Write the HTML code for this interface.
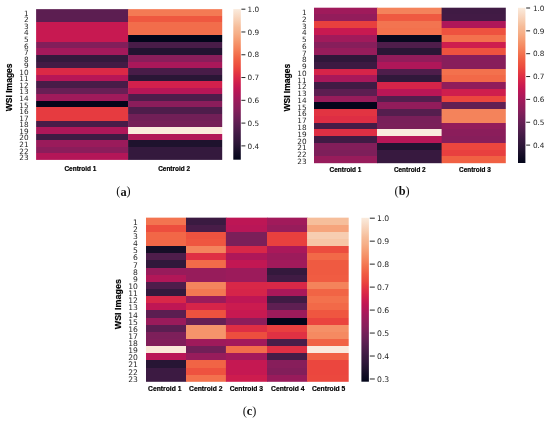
<!DOCTYPE html>
<html><head><meta charset="utf-8"><title>Heatmaps</title>
<style>
html,body{margin:0;padding:0;background:#fff}
body{width:550px;height:422px;overflow:hidden}
svg{display:block}
.t{font-family:"DejaVu Sans","Liberation Sans",sans-serif;fill:#262626}
.b{font-family:"Liberation Sans",sans-serif;font-weight:bold;fill:#000;stroke:#000;stroke-width:0.2px}
.c{font-family:"Liberation Serif",serif;fill:#111}
</style></head><body>
<svg width="550" height="422" viewBox="0 0 550 422">
<rect width="550" height="422" fill="#fff"/>
<defs><linearGradient id="h1" x1="0" y1="0" x2="0" y2="1"><stop offset="0.00000" stop-color="#5c1e51"/><stop offset="0.04348" stop-color="#5c1e51"/><stop offset="0.04348" stop-color="#5c1e51"/><stop offset="0.08696" stop-color="#5c1e51"/><stop offset="0.08696" stop-color="#c71951"/><stop offset="0.13043" stop-color="#c71951"/><stop offset="0.13043" stop-color="#c71951"/><stop offset="0.17391" stop-color="#c71951"/><stop offset="0.17391" stop-color="#c71951"/><stop offset="0.21739" stop-color="#c71951"/><stop offset="0.21739" stop-color="#821e5a"/><stop offset="0.26087" stop-color="#821e5a"/><stop offset="0.26087" stop-color="#a4195b"/><stop offset="0.30435" stop-color="#a4195b"/><stop offset="0.30435" stop-color="#34193d"/><stop offset="0.34783" stop-color="#34193d"/><stop offset="0.34783" stop-color="#421b45"/><stop offset="0.39130" stop-color="#421b45"/><stop offset="0.39130" stop-color="#db2946"/><stop offset="0.43478" stop-color="#db2946"/><stop offset="0.43478" stop-color="#b71657"/><stop offset="0.47826" stop-color="#b71657"/><stop offset="0.47826" stop-color="#481c48"/><stop offset="0.52174" stop-color="#481c48"/><stop offset="0.52174" stop-color="#691f55"/><stop offset="0.56522" stop-color="#691f55"/><stop offset="0.56522" stop-color="#a11a5b"/><stop offset="0.60870" stop-color="#a11a5b"/><stop offset="0.60870" stop-color="#03051a"/><stop offset="0.65217" stop-color="#03051a"/><stop offset="0.65217" stop-color="#e63b40"/><stop offset="0.69565" stop-color="#e63b40"/><stop offset="0.69565" stop-color="#e63b40"/><stop offset="0.73913" stop-color="#e63b40"/><stop offset="0.73913" stop-color="#481c48"/><stop offset="0.78261" stop-color="#481c48"/><stop offset="0.78261" stop-color="#af1759"/><stop offset="0.82609" stop-color="#af1759"/><stop offset="0.82609" stop-color="#3f1b43"/><stop offset="0.86957" stop-color="#3f1b43"/><stop offset="0.86957" stop-color="#9a1b5b"/><stop offset="0.91304" stop-color="#9a1b5b"/><stop offset="0.91304" stop-color="#8b1d5b"/><stop offset="0.95652" stop-color="#8b1d5b"/><stop offset="0.95652" stop-color="#b41658"/><stop offset="1.00000" stop-color="#b41658"/></linearGradient></defs>
<rect x="36.1" y="9.15" width="92.5" height="150.75" fill="url(#h1)"/>
<defs><linearGradient id="h2" x1="0" y1="0" x2="0" y2="1"><stop offset="0.00000" stop-color="#f47a54"/><stop offset="0.04348" stop-color="#f47a54"/><stop offset="0.04348" stop-color="#ef5840"/><stop offset="0.08696" stop-color="#ef5840"/><stop offset="0.08696" stop-color="#f26d4b"/><stop offset="0.13043" stop-color="#f26d4b"/><stop offset="0.13043" stop-color="#f26d4b"/><stop offset="0.17391" stop-color="#f26d4b"/><stop offset="0.17391" stop-color="#03051a"/><stop offset="0.21739" stop-color="#03051a"/><stop offset="0.21739" stop-color="#481c48"/><stop offset="0.26087" stop-color="#481c48"/><stop offset="0.26087" stop-color="#221331"/><stop offset="0.30435" stop-color="#221331"/><stop offset="0.30435" stop-color="#891e5b"/><stop offset="0.34783" stop-color="#891e5b"/><stop offset="0.34783" stop-color="#aa185a"/><stop offset="0.39130" stop-color="#aa185a"/><stop offset="0.39130" stop-color="#481c48"/><stop offset="0.43478" stop-color="#481c48"/><stop offset="0.43478" stop-color="#2a1636"/><stop offset="0.47826" stop-color="#2a1636"/><stop offset="0.47826" stop-color="#d2204c"/><stop offset="0.52174" stop-color="#d2204c"/><stop offset="0.52174" stop-color="#b71657"/><stop offset="0.56522" stop-color="#b71657"/><stop offset="0.56522" stop-color="#4e1d4b"/><stop offset="0.60870" stop-color="#4e1d4b"/><stop offset="0.60870" stop-color="#8b1d5b"/><stop offset="0.65217" stop-color="#8b1d5b"/><stop offset="0.65217" stop-color="#4e1d4b"/><stop offset="0.69565" stop-color="#4e1d4b"/><stop offset="0.69565" stop-color="#711f57"/><stop offset="0.73913" stop-color="#711f57"/><stop offset="0.73913" stop-color="#751f58"/><stop offset="0.78261" stop-color="#751f58"/><stop offset="0.78261" stop-color="#faebdd"/><stop offset="0.82609" stop-color="#faebdd"/><stop offset="0.82609" stop-color="#b21758"/><stop offset="0.86957" stop-color="#b21758"/><stop offset="0.86957" stop-color="#1e122d"/><stop offset="0.91304" stop-color="#1e122d"/><stop offset="0.91304" stop-color="#34193d"/><stop offset="0.95652" stop-color="#34193d"/><stop offset="0.95652" stop-color="#34193d"/><stop offset="1.00000" stop-color="#34193d"/></linearGradient></defs>
<rect x="128.1" y="9.15" width="94.1" height="150.75" fill="url(#h2)"/>
<defs><linearGradient id="ga" x1="0" y1="0" x2="0" y2="1"><stop offset="0" stop-color="#faebdd"/><stop offset="0.03" stop-color="#f9e0cd"/><stop offset="0.06" stop-color="#f8d4bc"/><stop offset="0.09" stop-color="#f7c9aa"/><stop offset="0.12" stop-color="#f6bc99"/><stop offset="0.16" stop-color="#f6b089"/><stop offset="0.19" stop-color="#f6a37a"/><stop offset="0.22" stop-color="#f5966c"/><stop offset="0.25" stop-color="#f58860"/><stop offset="0.28" stop-color="#f47a54"/><stop offset="0.31" stop-color="#f26b49"/><stop offset="0.34" stop-color="#f05c42"/><stop offset="0.38" stop-color="#ec4c3e"/><stop offset="0.41" stop-color="#e73d3f"/><stop offset="0.44" stop-color="#df2f44"/><stop offset="0.47" stop-color="#d62449"/><stop offset="0.5" stop-color="#cb1b4f"/><stop offset="0.53" stop-color="#bf1654"/><stop offset="0.56" stop-color="#b21758"/><stop offset="0.59" stop-color="#a4195b"/><stop offset="0.62" stop-color="#971c5b"/><stop offset="0.66" stop-color="#891e5b"/><stop offset="0.69" stop-color="#7b1f59"/><stop offset="0.72" stop-color="#6e1f57"/><stop offset="0.75" stop-color="#611f53"/><stop offset="0.78" stop-color="#541e4e"/><stop offset="0.81" stop-color="#481c48"/><stop offset="0.84" stop-color="#3c1a42"/><stop offset="0.88" stop-color="#30173a"/><stop offset="0.91" stop-color="#241432"/><stop offset="0.94" stop-color="#180f29"/><stop offset="0.97" stop-color="#0d0a21"/><stop offset="1" stop-color="#03051a"/></linearGradient></defs>
<rect x="233.3" y="9.1" width="7.5" height="150.6" fill="url(#ga)"/>
<line x1="241.4" y1="9.2" x2="245.4" y2="9.2" stroke="#262626" stroke-width="1"/>
<text x="247.6" y="11.86" font-size="7.3" class="t">1.0</text>
<line x1="241.4" y1="31.98" x2="245.4" y2="31.98" stroke="#262626" stroke-width="1"/>
<text x="247.6" y="34.64" font-size="7.3" class="t">0.9</text>
<line x1="241.4" y1="54.76" x2="245.4" y2="54.76" stroke="#262626" stroke-width="1"/>
<text x="247.6" y="57.42" font-size="7.3" class="t">0.8</text>
<line x1="241.4" y1="77.54" x2="245.4" y2="77.54" stroke="#262626" stroke-width="1"/>
<text x="247.6" y="80.2" font-size="7.3" class="t">0.7</text>
<line x1="241.4" y1="100.32" x2="245.4" y2="100.32" stroke="#262626" stroke-width="1"/>
<text x="247.6" y="102.98" font-size="7.3" class="t">0.6</text>
<line x1="241.4" y1="123.1" x2="245.4" y2="123.1" stroke="#262626" stroke-width="1"/>
<text x="247.6" y="125.76" font-size="7.3" class="t">0.5</text>
<line x1="241.4" y1="145.88" x2="245.4" y2="145.88" stroke="#262626" stroke-width="1"/>
<text x="247.6" y="148.54" font-size="7.3" class="t">0.4</text>
<text x="28.6" y="15.74" font-size="7.3" class="t" text-anchor="end">1</text>
<text x="28.6" y="22.31" font-size="7.3" class="t" text-anchor="end">2</text>
<text x="28.6" y="28.87" font-size="7.3" class="t" text-anchor="end">3</text>
<text x="28.6" y="35.43" font-size="7.3" class="t" text-anchor="end">4</text>
<text x="28.6" y="41.99" font-size="7.3" class="t" text-anchor="end">5</text>
<text x="28.6" y="48.55" font-size="7.3" class="t" text-anchor="end">6</text>
<text x="28.6" y="55.11" font-size="7.3" class="t" text-anchor="end">7</text>
<text x="28.6" y="61.67" font-size="7.3" class="t" text-anchor="end">8</text>
<text x="28.6" y="68.23" font-size="7.3" class="t" text-anchor="end">9</text>
<text x="28.6" y="74.79" font-size="7.3" class="t" text-anchor="end">10</text>
<text x="28.6" y="81.35" font-size="7.3" class="t" text-anchor="end">11</text>
<text x="28.6" y="87.91" font-size="7.3" class="t" text-anchor="end">12</text>
<text x="28.6" y="94.48" font-size="7.3" class="t" text-anchor="end">13</text>
<text x="28.6" y="101.04" font-size="7.3" class="t" text-anchor="end">14</text>
<text x="28.6" y="107.6" font-size="7.3" class="t" text-anchor="end">15</text>
<text x="28.6" y="114.16" font-size="7.3" class="t" text-anchor="end">16</text>
<text x="28.6" y="120.72" font-size="7.3" class="t" text-anchor="end">17</text>
<text x="28.6" y="127.28" font-size="7.3" class="t" text-anchor="end">18</text>
<text x="28.6" y="133.84" font-size="7.3" class="t" text-anchor="end">19</text>
<text x="28.6" y="140.4" font-size="7.3" class="t" text-anchor="end">20</text>
<text x="28.6" y="146.96" font-size="7.3" class="t" text-anchor="end">21</text>
<text x="28.6" y="153.52" font-size="7.3" class="t" text-anchor="end">22</text>
<text x="28.6" y="160.08" font-size="7.3" class="t" text-anchor="end">23</text>
<text x="80.4" y="171.41" font-size="6.45" class="b" text-anchor="middle">Centroid 1</text>
<text x="174.1" y="171.41" font-size="6.45" class="b" text-anchor="middle">Centroid 2</text>
<text transform="translate(11.5 87.3) rotate(-90)" font-size="8.5" class="b" text-anchor="middle">WSI Images</text>
<text transform="translate(123.5 195.6) scale(0.95 1)" font-size="13" class="c" text-anchor="middle"><tspan dy="-0.5">(</tspan><tspan font-weight="bold" dy="0.5">a</tspan><tspan dy="-0.5">)</tspan></text>
<defs><linearGradient id="h3" x1="0" y1="0" x2="0" y2="1"><stop offset="0.00000" stop-color="#9f1a5b"/><stop offset="0.04348" stop-color="#9f1a5b"/><stop offset="0.04348" stop-color="#931c5b"/><stop offset="0.08696" stop-color="#931c5b"/><stop offset="0.08696" stop-color="#e8403e"/><stop offset="0.13043" stop-color="#e8403e"/><stop offset="0.13043" stop-color="#c81951"/><stop offset="0.17391" stop-color="#c81951"/><stop offset="0.17391" stop-color="#a11a5b"/><stop offset="0.21739" stop-color="#a11a5b"/><stop offset="0.21739" stop-color="#871e5b"/><stop offset="0.26087" stop-color="#871e5b"/><stop offset="0.26087" stop-color="#971c5b"/><stop offset="0.30435" stop-color="#971c5b"/><stop offset="0.30435" stop-color="#30173a"/><stop offset="0.34783" stop-color="#30173a"/><stop offset="0.34783" stop-color="#3c1a42"/><stop offset="0.39130" stop-color="#3c1a42"/><stop offset="0.39130" stop-color="#d62449"/><stop offset="0.43478" stop-color="#d62449"/><stop offset="0.43478" stop-color="#a8185a"/><stop offset="0.47826" stop-color="#a8185a"/><stop offset="0.47826" stop-color="#401b44"/><stop offset="0.52174" stop-color="#401b44"/><stop offset="0.52174" stop-color="#5c1e51"/><stop offset="0.56522" stop-color="#5c1e51"/><stop offset="0.56522" stop-color="#971c5b"/><stop offset="0.60870" stop-color="#971c5b"/><stop offset="0.60870" stop-color="#03051a"/><stop offset="0.65217" stop-color="#03051a"/><stop offset="0.65217" stop-color="#e23442"/><stop offset="0.69565" stop-color="#e23442"/><stop offset="0.69565" stop-color="#de2e44"/><stop offset="0.73913" stop-color="#de2e44"/><stop offset="0.73913" stop-color="#451c47"/><stop offset="0.78261" stop-color="#451c47"/><stop offset="0.78261" stop-color="#df2f44"/><stop offset="0.82609" stop-color="#df2f44"/><stop offset="0.82609" stop-color="#401b44"/><stop offset="0.86957" stop-color="#401b44"/><stop offset="0.86957" stop-color="#821e5a"/><stop offset="0.91304" stop-color="#821e5a"/><stop offset="0.91304" stop-color="#7d1f5a"/><stop offset="0.95652" stop-color="#7d1f5a"/><stop offset="0.95652" stop-color="#971c5b"/><stop offset="1.00000" stop-color="#971c5b"/></linearGradient></defs>
<rect x="314" y="7.7" width="63.5" height="155.5" fill="url(#h3)"/>
<defs><linearGradient id="h4" x1="0" y1="0" x2="0" y2="1"><stop offset="0.00000" stop-color="#f4835b"/><stop offset="0.04348" stop-color="#f4835b"/><stop offset="0.04348" stop-color="#ef5a41"/><stop offset="0.08696" stop-color="#ef5a41"/><stop offset="0.08696" stop-color="#f37450"/><stop offset="0.13043" stop-color="#f37450"/><stop offset="0.13043" stop-color="#f3714d"/><stop offset="0.17391" stop-color="#f3714d"/><stop offset="0.17391" stop-color="#08081e"/><stop offset="0.21739" stop-color="#08081e"/><stop offset="0.21739" stop-color="#4e1d4b"/><stop offset="0.26087" stop-color="#4e1d4b"/><stop offset="0.26087" stop-color="#2a1636"/><stop offset="0.30435" stop-color="#2a1636"/><stop offset="0.30435" stop-color="#921c5b"/><stop offset="0.34783" stop-color="#921c5b"/><stop offset="0.34783" stop-color="#af1759"/><stop offset="0.39130" stop-color="#af1759"/><stop offset="0.39130" stop-color="#4e1d4b"/><stop offset="0.43478" stop-color="#4e1d4b"/><stop offset="0.43478" stop-color="#31183b"/><stop offset="0.47826" stop-color="#31183b"/><stop offset="0.47826" stop-color="#d62449"/><stop offset="0.52174" stop-color="#d62449"/><stop offset="0.52174" stop-color="#ba1656"/><stop offset="0.56522" stop-color="#ba1656"/><stop offset="0.56522" stop-color="#541e4e"/><stop offset="0.60870" stop-color="#541e4e"/><stop offset="0.60870" stop-color="#921c5b"/><stop offset="0.65217" stop-color="#921c5b"/><stop offset="0.65217" stop-color="#541e4e"/><stop offset="0.69565" stop-color="#541e4e"/><stop offset="0.69565" stop-color="#781f59"/><stop offset="0.73913" stop-color="#781f59"/><stop offset="0.73913" stop-color="#7a1f59"/><stop offset="0.78261" stop-color="#7a1f59"/><stop offset="0.78261" stop-color="#faebdd"/><stop offset="0.82609" stop-color="#faebdd"/><stop offset="0.82609" stop-color="#b71657"/><stop offset="0.86957" stop-color="#b71657"/><stop offset="0.86957" stop-color="#221331"/><stop offset="0.91304" stop-color="#221331"/><stop offset="0.91304" stop-color="#37193f"/><stop offset="0.95652" stop-color="#37193f"/><stop offset="0.95652" stop-color="#37193f"/><stop offset="1.00000" stop-color="#37193f"/></linearGradient></defs>
<rect x="377" y="7.7" width="65.1" height="155.5" fill="url(#h4)"/>
<defs><linearGradient id="h5" x1="0" y1="0" x2="0" y2="1"><stop offset="0.00000" stop-color="#401b44"/><stop offset="0.04348" stop-color="#401b44"/><stop offset="0.04348" stop-color="#421b45"/><stop offset="0.08696" stop-color="#421b45"/><stop offset="0.08696" stop-color="#af1759"/><stop offset="0.13043" stop-color="#af1759"/><stop offset="0.13043" stop-color="#ee523f"/><stop offset="0.17391" stop-color="#ee523f"/><stop offset="0.17391" stop-color="#f3714d"/><stop offset="0.21739" stop-color="#f3714d"/><stop offset="0.21739" stop-color="#ce1d4e"/><stop offset="0.26087" stop-color="#ce1d4e"/><stop offset="0.26087" stop-color="#ee523f"/><stop offset="0.30435" stop-color="#ee523f"/><stop offset="0.30435" stop-color="#871e5b"/><stop offset="0.34783" stop-color="#871e5b"/><stop offset="0.34783" stop-color="#871e5b"/><stop offset="0.39130" stop-color="#871e5b"/><stop offset="0.39130" stop-color="#f3714d"/><stop offset="0.43478" stop-color="#f3714d"/><stop offset="0.43478" stop-color="#f26948"/><stop offset="0.47826" stop-color="#f26948"/><stop offset="0.47826" stop-color="#901d5b"/><stop offset="0.52174" stop-color="#901d5b"/><stop offset="0.52174" stop-color="#cf1e4d"/><stop offset="0.56522" stop-color="#cf1e4d"/><stop offset="0.56522" stop-color="#eb463e"/><stop offset="0.60870" stop-color="#eb463e"/><stop offset="0.60870" stop-color="#611f53"/><stop offset="0.65217" stop-color="#611f53"/><stop offset="0.65217" stop-color="#f4835b"/><stop offset="0.69565" stop-color="#f4835b"/><stop offset="0.69565" stop-color="#f4835b"/><stop offset="0.73913" stop-color="#f4835b"/><stop offset="0.73913" stop-color="#931c5b"/><stop offset="0.78261" stop-color="#931c5b"/><stop offset="0.78261" stop-color="#8b1d5b"/><stop offset="0.82609" stop-color="#8b1d5b"/><stop offset="0.82609" stop-color="#871e5b"/><stop offset="0.86957" stop-color="#871e5b"/><stop offset="0.86957" stop-color="#eb463e"/><stop offset="0.91304" stop-color="#eb463e"/><stop offset="0.91304" stop-color="#e83f3f"/><stop offset="0.95652" stop-color="#e83f3f"/><stop offset="0.95652" stop-color="#f06043"/><stop offset="1.00000" stop-color="#f06043"/></linearGradient></defs>
<rect x="441.6" y="7.7" width="64.2" height="155.5" fill="url(#h5)"/>
<defs><linearGradient id="gb" x1="0" y1="0" x2="0" y2="1"><stop offset="0" stop-color="#faebdd"/><stop offset="0.03" stop-color="#f9e0cd"/><stop offset="0.06" stop-color="#f8d4bc"/><stop offset="0.09" stop-color="#f7c9aa"/><stop offset="0.12" stop-color="#f6bc99"/><stop offset="0.16" stop-color="#f6b089"/><stop offset="0.19" stop-color="#f6a37a"/><stop offset="0.22" stop-color="#f5966c"/><stop offset="0.25" stop-color="#f58860"/><stop offset="0.28" stop-color="#f47a54"/><stop offset="0.31" stop-color="#f26b49"/><stop offset="0.34" stop-color="#f05c42"/><stop offset="0.38" stop-color="#ec4c3e"/><stop offset="0.41" stop-color="#e73d3f"/><stop offset="0.44" stop-color="#df2f44"/><stop offset="0.47" stop-color="#d62449"/><stop offset="0.5" stop-color="#cb1b4f"/><stop offset="0.53" stop-color="#bf1654"/><stop offset="0.56" stop-color="#b21758"/><stop offset="0.59" stop-color="#a4195b"/><stop offset="0.62" stop-color="#971c5b"/><stop offset="0.66" stop-color="#891e5b"/><stop offset="0.69" stop-color="#7b1f59"/><stop offset="0.72" stop-color="#6e1f57"/><stop offset="0.75" stop-color="#611f53"/><stop offset="0.78" stop-color="#541e4e"/><stop offset="0.81" stop-color="#481c48"/><stop offset="0.84" stop-color="#3c1a42"/><stop offset="0.88" stop-color="#30173a"/><stop offset="0.91" stop-color="#241432"/><stop offset="0.94" stop-color="#180f29"/><stop offset="0.97" stop-color="#0d0a21"/><stop offset="1" stop-color="#03051a"/></linearGradient></defs>
<rect x="518" y="7.8" width="7.4" height="155.2" fill="url(#gb)"/>
<line x1="526.2" y1="8" x2="530.1" y2="8" stroke="#262626" stroke-width="1"/>
<text x="532.9" y="10.66" font-size="7.3" class="t">1.0</text>
<line x1="526.2" y1="30.85" x2="530.1" y2="30.85" stroke="#262626" stroke-width="1"/>
<text x="532.9" y="33.51" font-size="7.3" class="t">0.9</text>
<line x1="526.2" y1="53.7" x2="530.1" y2="53.7" stroke="#262626" stroke-width="1"/>
<text x="532.9" y="56.36" font-size="7.3" class="t">0.8</text>
<line x1="526.2" y1="76.55" x2="530.1" y2="76.55" stroke="#262626" stroke-width="1"/>
<text x="532.9" y="79.21" font-size="7.3" class="t">0.7</text>
<line x1="526.2" y1="99.4" x2="530.1" y2="99.4" stroke="#262626" stroke-width="1"/>
<text x="532.9" y="102.06" font-size="7.3" class="t">0.6</text>
<line x1="526.2" y1="122.25" x2="530.1" y2="122.25" stroke="#262626" stroke-width="1"/>
<text x="532.9" y="124.91" font-size="7.3" class="t">0.5</text>
<line x1="526.2" y1="145.1" x2="530.1" y2="145.1" stroke="#262626" stroke-width="1"/>
<text x="532.9" y="147.76" font-size="7.3" class="t">0.4</text>
<text x="306.6" y="15.04" font-size="7.3" class="t" text-anchor="end">1</text>
<text x="306.6" y="21.81" font-size="7.3" class="t" text-anchor="end">2</text>
<text x="306.6" y="28.57" font-size="7.3" class="t" text-anchor="end">3</text>
<text x="306.6" y="35.33" font-size="7.3" class="t" text-anchor="end">4</text>
<text x="306.6" y="42.09" font-size="7.3" class="t" text-anchor="end">5</text>
<text x="306.6" y="48.85" font-size="7.3" class="t" text-anchor="end">6</text>
<text x="306.6" y="55.61" font-size="7.3" class="t" text-anchor="end">7</text>
<text x="306.6" y="62.37" font-size="7.3" class="t" text-anchor="end">8</text>
<text x="306.6" y="69.13" font-size="7.3" class="t" text-anchor="end">9</text>
<text x="306.6" y="75.89" font-size="7.3" class="t" text-anchor="end">10</text>
<text x="306.6" y="82.65" font-size="7.3" class="t" text-anchor="end">11</text>
<text x="306.6" y="89.41" font-size="7.3" class="t" text-anchor="end">12</text>
<text x="306.6" y="96.18" font-size="7.3" class="t" text-anchor="end">13</text>
<text x="306.6" y="102.94" font-size="7.3" class="t" text-anchor="end">14</text>
<text x="306.6" y="109.7" font-size="7.3" class="t" text-anchor="end">15</text>
<text x="306.6" y="116.46" font-size="7.3" class="t" text-anchor="end">16</text>
<text x="306.6" y="123.22" font-size="7.3" class="t" text-anchor="end">17</text>
<text x="306.6" y="129.98" font-size="7.3" class="t" text-anchor="end">18</text>
<text x="306.6" y="136.74" font-size="7.3" class="t" text-anchor="end">19</text>
<text x="306.6" y="143.5" font-size="7.3" class="t" text-anchor="end">20</text>
<text x="306.6" y="150.26" font-size="7.3" class="t" text-anchor="end">21</text>
<text x="306.6" y="157.02" font-size="7.3" class="t" text-anchor="end">22</text>
<text x="306.6" y="163.78" font-size="7.3" class="t" text-anchor="end">23</text>
<text x="345.5" y="171.5" font-size="6.43" class="b" text-anchor="middle">Centroid 1</text>
<text x="409.8" y="171.5" font-size="6.43" class="b" text-anchor="middle">Centroid 2</text>
<text x="474.9" y="171.5" font-size="6.43" class="b" text-anchor="middle">Centroid 3</text>
<text transform="translate(289.5 87.7) rotate(-90)" font-size="8.5" class="b" text-anchor="middle">WSI Images</text>
<text transform="translate(402.1 195.3) scale(0.95 1)" font-size="13" class="c" text-anchor="middle"><tspan dy="-0.5">(</tspan><tspan font-weight="bold" dy="0.5">b</tspan><tspan dy="-0.5">)</tspan></text>
<defs><linearGradient id="h6" x1="0" y1="0" x2="0" y2="1"><stop offset="0.00000" stop-color="#f37450"/><stop offset="0.04348" stop-color="#f37450"/><stop offset="0.04348" stop-color="#ed4e3e"/><stop offset="0.08696" stop-color="#ed4e3e"/><stop offset="0.08696" stop-color="#f26747"/><stop offset="0.13043" stop-color="#f26747"/><stop offset="0.13043" stop-color="#f26747"/><stop offset="0.17391" stop-color="#f26747"/><stop offset="0.17391" stop-color="#160e27"/><stop offset="0.21739" stop-color="#160e27"/><stop offset="0.21739" stop-color="#4e1d4b"/><stop offset="0.26087" stop-color="#4e1d4b"/><stop offset="0.26087" stop-color="#31183b"/><stop offset="0.30435" stop-color="#31183b"/><stop offset="0.30435" stop-color="#981b5b"/><stop offset="0.34783" stop-color="#981b5b"/><stop offset="0.34783" stop-color="#b21758"/><stop offset="0.39130" stop-color="#b21758"/><stop offset="0.39130" stop-color="#4e1d4b"/><stop offset="0.43478" stop-color="#4e1d4b"/><stop offset="0.43478" stop-color="#34193d"/><stop offset="0.47826" stop-color="#34193d"/><stop offset="0.47826" stop-color="#d82748"/><stop offset="0.52174" stop-color="#d82748"/><stop offset="0.52174" stop-color="#bf1654"/><stop offset="0.56522" stop-color="#bf1654"/><stop offset="0.56522" stop-color="#5b1e51"/><stop offset="0.60870" stop-color="#5b1e51"/><stop offset="0.60870" stop-color="#9a1b5b"/><stop offset="0.65217" stop-color="#9a1b5b"/><stop offset="0.65217" stop-color="#5b1e51"/><stop offset="0.69565" stop-color="#5b1e51"/><stop offset="0.69565" stop-color="#7d1f5a"/><stop offset="0.73913" stop-color="#7d1f5a"/><stop offset="0.73913" stop-color="#811e5a"/><stop offset="0.78261" stop-color="#811e5a"/><stop offset="0.78261" stop-color="#fae8d8"/><stop offset="0.82609" stop-color="#fae8d8"/><stop offset="0.82609" stop-color="#ba1656"/><stop offset="0.86957" stop-color="#ba1656"/><stop offset="0.86957" stop-color="#271534"/><stop offset="0.91304" stop-color="#271534"/><stop offset="0.91304" stop-color="#3c1a42"/><stop offset="0.95652" stop-color="#3c1a42"/><stop offset="0.95652" stop-color="#3c1a42"/><stop offset="1.00000" stop-color="#3c1a42"/></linearGradient></defs>
<rect x="146" y="217.65" width="40.5" height="164.15" fill="url(#h6)"/>
<defs><linearGradient id="h7" x1="0" y1="0" x2="0" y2="1"><stop offset="0.00000" stop-color="#3a1a41"/><stop offset="0.04348" stop-color="#3a1a41"/><stop offset="0.04348" stop-color="#481c48"/><stop offset="0.08696" stop-color="#481c48"/><stop offset="0.08696" stop-color="#ee523f"/><stop offset="0.13043" stop-color="#ee523f"/><stop offset="0.13043" stop-color="#ef5640"/><stop offset="0.17391" stop-color="#ef5640"/><stop offset="0.17391" stop-color="#f4845d"/><stop offset="0.21739" stop-color="#f4845d"/><stop offset="0.21739" stop-color="#df2f44"/><stop offset="0.26087" stop-color="#df2f44"/><stop offset="0.26087" stop-color="#f26b49"/><stop offset="0.30435" stop-color="#f26b49"/><stop offset="0.30435" stop-color="#971c5b"/><stop offset="0.34783" stop-color="#971c5b"/><stop offset="0.34783" stop-color="#971c5b"/><stop offset="0.39130" stop-color="#971c5b"/><stop offset="0.39130" stop-color="#f4845d"/><stop offset="0.43478" stop-color="#f4845d"/><stop offset="0.43478" stop-color="#f37852"/><stop offset="0.47826" stop-color="#f37852"/><stop offset="0.47826" stop-color="#9a1b5b"/><stop offset="0.52174" stop-color="#9a1b5b"/><stop offset="0.52174" stop-color="#d62449"/><stop offset="0.56522" stop-color="#d62449"/><stop offset="0.56522" stop-color="#ee523f"/><stop offset="0.60870" stop-color="#ee523f"/><stop offset="0.60870" stop-color="#661f54"/><stop offset="0.65217" stop-color="#661f54"/><stop offset="0.65217" stop-color="#f5946b"/><stop offset="0.69565" stop-color="#f5946b"/><stop offset="0.69565" stop-color="#f5946b"/><stop offset="0.73913" stop-color="#f5946b"/><stop offset="0.73913" stop-color="#9f1a5b"/><stop offset="0.78261" stop-color="#9f1a5b"/><stop offset="0.78261" stop-color="#711f57"/><stop offset="0.82609" stop-color="#711f57"/><stop offset="0.82609" stop-color="#971c5b"/><stop offset="0.86957" stop-color="#971c5b"/><stop offset="0.86957" stop-color="#f16445"/><stop offset="0.91304" stop-color="#f16445"/><stop offset="0.91304" stop-color="#ee523f"/><stop offset="0.95652" stop-color="#ee523f"/><stop offset="0.95652" stop-color="#f3714d"/><stop offset="1.00000" stop-color="#f3714d"/></linearGradient></defs>
<rect x="186" y="217.65" width="40.4" height="164.15" fill="url(#h7)"/>
<defs><linearGradient id="h8" x1="0" y1="0" x2="0" y2="1"><stop offset="0.00000" stop-color="#bd1655"/><stop offset="0.04348" stop-color="#bd1655"/><stop offset="0.04348" stop-color="#b91657"/><stop offset="0.08696" stop-color="#b91657"/><stop offset="0.08696" stop-color="#7b1f59"/><stop offset="0.13043" stop-color="#7b1f59"/><stop offset="0.13043" stop-color="#7b1f59"/><stop offset="0.17391" stop-color="#7b1f59"/><stop offset="0.17391" stop-color="#d82748"/><stop offset="0.21739" stop-color="#d82748"/><stop offset="0.21739" stop-color="#af1759"/><stop offset="0.26087" stop-color="#af1759"/><stop offset="0.26087" stop-color="#c21753"/><stop offset="0.30435" stop-color="#c21753"/><stop offset="0.30435" stop-color="#9c1b5b"/><stop offset="0.34783" stop-color="#9c1b5b"/><stop offset="0.34783" stop-color="#9c1b5b"/><stop offset="0.39130" stop-color="#9c1b5b"/><stop offset="0.39130" stop-color="#d82748"/><stop offset="0.43478" stop-color="#d82748"/><stop offset="0.43478" stop-color="#d62449"/><stop offset="0.47826" stop-color="#d62449"/><stop offset="0.47826" stop-color="#bf1654"/><stop offset="0.52174" stop-color="#bf1654"/><stop offset="0.52174" stop-color="#cb1b4f"/><stop offset="0.56522" stop-color="#cb1b4f"/><stop offset="0.56522" stop-color="#c71951"/><stop offset="0.60870" stop-color="#c71951"/><stop offset="0.60870" stop-color="#8c1d5b"/><stop offset="0.65217" stop-color="#8c1d5b"/><stop offset="0.65217" stop-color="#de2e44"/><stop offset="0.69565" stop-color="#de2e44"/><stop offset="0.69565" stop-color="#ed4e3e"/><stop offset="0.73913" stop-color="#ed4e3e"/><stop offset="0.73913" stop-color="#a3195b"/><stop offset="0.78261" stop-color="#a3195b"/><stop offset="0.78261" stop-color="#f26d4b"/><stop offset="0.82609" stop-color="#f26d4b"/><stop offset="0.82609" stop-color="#a4195b"/><stop offset="0.86957" stop-color="#a4195b"/><stop offset="0.86957" stop-color="#c51852"/><stop offset="0.91304" stop-color="#c51852"/><stop offset="0.91304" stop-color="#c51852"/><stop offset="0.95652" stop-color="#c51852"/><stop offset="0.95652" stop-color="#cd1c4e"/><stop offset="1.00000" stop-color="#cd1c4e"/></linearGradient></defs>
<rect x="225.9" y="217.65" width="41.6" height="164.15" fill="url(#h8)"/>
<defs><linearGradient id="h9" x1="0" y1="0" x2="0" y2="1"><stop offset="0.00000" stop-color="#a11a5b"/><stop offset="0.04348" stop-color="#a11a5b"/><stop offset="0.04348" stop-color="#971c5b"/><stop offset="0.08696" stop-color="#971c5b"/><stop offset="0.08696" stop-color="#e8403e"/><stop offset="0.13043" stop-color="#e8403e"/><stop offset="0.13043" stop-color="#e8403e"/><stop offset="0.17391" stop-color="#e8403e"/><stop offset="0.17391" stop-color="#aa185a"/><stop offset="0.21739" stop-color="#aa185a"/><stop offset="0.21739" stop-color="#9c1b5b"/><stop offset="0.26087" stop-color="#9c1b5b"/><stop offset="0.26087" stop-color="#a11a5b"/><stop offset="0.30435" stop-color="#a11a5b"/><stop offset="0.30435" stop-color="#34193d"/><stop offset="0.34783" stop-color="#34193d"/><stop offset="0.34783" stop-color="#401b44"/><stop offset="0.39130" stop-color="#401b44"/><stop offset="0.39130" stop-color="#d92847"/><stop offset="0.43478" stop-color="#d92847"/><stop offset="0.43478" stop-color="#aa185a"/><stop offset="0.47826" stop-color="#aa185a"/><stop offset="0.47826" stop-color="#401b44"/><stop offset="0.52174" stop-color="#401b44"/><stop offset="0.52174" stop-color="#5e1f52"/><stop offset="0.56522" stop-color="#5e1f52"/><stop offset="0.56522" stop-color="#9c1b5b"/><stop offset="0.60870" stop-color="#9c1b5b"/><stop offset="0.60870" stop-color="#03051a"/><stop offset="0.65217" stop-color="#03051a"/><stop offset="0.65217" stop-color="#e83f3f"/><stop offset="0.69565" stop-color="#e83f3f"/><stop offset="0.69565" stop-color="#e03143"/><stop offset="0.73913" stop-color="#e03143"/><stop offset="0.73913" stop-color="#491d49"/><stop offset="0.78261" stop-color="#491d49"/><stop offset="0.78261" stop-color="#df2f44"/><stop offset="0.82609" stop-color="#df2f44"/><stop offset="0.82609" stop-color="#451c47"/><stop offset="0.86957" stop-color="#451c47"/><stop offset="0.86957" stop-color="#871e5b"/><stop offset="0.91304" stop-color="#871e5b"/><stop offset="0.91304" stop-color="#821e5a"/><stop offset="0.95652" stop-color="#821e5a"/><stop offset="0.95652" stop-color="#981b5b"/><stop offset="1.00000" stop-color="#981b5b"/></linearGradient></defs>
<rect x="267" y="217.65" width="40.6" height="164.15" fill="url(#h9)"/>
<defs><linearGradient id="h10" x1="0" y1="0" x2="0" y2="1"><stop offset="0.00000" stop-color="#f6be9b"/><stop offset="0.04348" stop-color="#f6be9b"/><stop offset="0.04348" stop-color="#f6a47c"/><stop offset="0.08696" stop-color="#f6a47c"/><stop offset="0.08696" stop-color="#f7cdb1"/><stop offset="0.13043" stop-color="#f7cdb1"/><stop offset="0.13043" stop-color="#f7c6a6"/><stop offset="0.17391" stop-color="#f7c6a6"/><stop offset="0.17391" stop-color="#ec4c3e"/><stop offset="0.21739" stop-color="#ec4c3e"/><stop offset="0.21739" stop-color="#f26948"/><stop offset="0.26087" stop-color="#f26948"/><stop offset="0.26087" stop-color="#ef5a41"/><stop offset="0.30435" stop-color="#ef5a41"/><stop offset="0.30435" stop-color="#ef5a41"/><stop offset="0.34783" stop-color="#ef5a41"/><stop offset="0.34783" stop-color="#f05c42"/><stop offset="0.39130" stop-color="#f05c42"/><stop offset="0.39130" stop-color="#f4835b"/><stop offset="0.43478" stop-color="#f4835b"/><stop offset="0.43478" stop-color="#f16445"/><stop offset="0.47826" stop-color="#f16445"/><stop offset="0.47826" stop-color="#f3714d"/><stop offset="0.52174" stop-color="#f3714d"/><stop offset="0.52174" stop-color="#f26948"/><stop offset="0.56522" stop-color="#f26948"/><stop offset="0.56522" stop-color="#ef5640"/><stop offset="0.60870" stop-color="#ef5640"/><stop offset="0.60870" stop-color="#ea443e"/><stop offset="0.65217" stop-color="#ea443e"/><stop offset="0.65217" stop-color="#f59067"/><stop offset="0.69565" stop-color="#f59067"/><stop offset="0.69565" stop-color="#f58a61"/><stop offset="0.73913" stop-color="#f58a61"/><stop offset="0.73913" stop-color="#f16445"/><stop offset="0.78261" stop-color="#f16445"/><stop offset="0.78261" stop-color="#faebdd"/><stop offset="0.82609" stop-color="#faebdd"/><stop offset="0.82609" stop-color="#f16244"/><stop offset="0.86957" stop-color="#f16244"/><stop offset="0.86957" stop-color="#eb463e"/><stop offset="0.91304" stop-color="#eb463e"/><stop offset="0.91304" stop-color="#eb463e"/><stop offset="0.95652" stop-color="#eb463e"/><stop offset="0.95652" stop-color="#eb483e"/><stop offset="1.00000" stop-color="#eb483e"/></linearGradient></defs>
<rect x="307.1" y="217.65" width="41.6" height="164.15" fill="url(#h10)"/>
<defs><linearGradient id="gc" x1="0" y1="0" x2="0" y2="1"><stop offset="0" stop-color="#faebdd"/><stop offset="0.03" stop-color="#f9e0cd"/><stop offset="0.06" stop-color="#f8d4bc"/><stop offset="0.09" stop-color="#f7c9aa"/><stop offset="0.12" stop-color="#f6bc99"/><stop offset="0.16" stop-color="#f6b089"/><stop offset="0.19" stop-color="#f6a37a"/><stop offset="0.22" stop-color="#f5966c"/><stop offset="0.25" stop-color="#f58860"/><stop offset="0.28" stop-color="#f47a54"/><stop offset="0.31" stop-color="#f26b49"/><stop offset="0.34" stop-color="#f05c42"/><stop offset="0.38" stop-color="#ec4c3e"/><stop offset="0.41" stop-color="#e73d3f"/><stop offset="0.44" stop-color="#df2f44"/><stop offset="0.47" stop-color="#d62449"/><stop offset="0.5" stop-color="#cb1b4f"/><stop offset="0.53" stop-color="#bf1654"/><stop offset="0.56" stop-color="#b21758"/><stop offset="0.59" stop-color="#a4195b"/><stop offset="0.62" stop-color="#971c5b"/><stop offset="0.66" stop-color="#891e5b"/><stop offset="0.69" stop-color="#7b1f59"/><stop offset="0.72" stop-color="#6e1f57"/><stop offset="0.75" stop-color="#611f53"/><stop offset="0.78" stop-color="#541e4e"/><stop offset="0.81" stop-color="#481c48"/><stop offset="0.84" stop-color="#3c1a42"/><stop offset="0.88" stop-color="#30173a"/><stop offset="0.91" stop-color="#241432"/><stop offset="0.94" stop-color="#180f29"/><stop offset="0.97" stop-color="#0d0a21"/><stop offset="1" stop-color="#03051a"/></linearGradient></defs>
<rect x="361.4" y="217.8" width="7.5" height="163.9" fill="url(#gc)"/>
<line x1="369.8" y1="218.2" x2="374.8" y2="218.2" stroke="#262626" stroke-width="1"/>
<text x="377" y="221.01" font-size="7.7" class="t">1.0</text>
<line x1="369.8" y1="241.17" x2="374.8" y2="241.17" stroke="#262626" stroke-width="1"/>
<text x="377" y="243.98" font-size="7.7" class="t">0.9</text>
<line x1="369.8" y1="264.14" x2="374.8" y2="264.14" stroke="#262626" stroke-width="1"/>
<text x="377" y="266.95" font-size="7.7" class="t">0.8</text>
<line x1="369.8" y1="287.11" x2="374.8" y2="287.11" stroke="#262626" stroke-width="1"/>
<text x="377" y="289.92" font-size="7.7" class="t">0.7</text>
<line x1="369.8" y1="310.08" x2="374.8" y2="310.08" stroke="#262626" stroke-width="1"/>
<text x="377" y="312.89" font-size="7.7" class="t">0.6</text>
<line x1="369.8" y1="333.05" x2="374.8" y2="333.05" stroke="#262626" stroke-width="1"/>
<text x="377" y="335.86" font-size="7.7" class="t">0.5</text>
<line x1="369.8" y1="356.02" x2="374.8" y2="356.02" stroke="#262626" stroke-width="1"/>
<text x="377" y="358.83" font-size="7.7" class="t">0.4</text>
<line x1="369.8" y1="378.99" x2="374.8" y2="378.99" stroke="#262626" stroke-width="1"/>
<text x="377" y="381.8" font-size="7.7" class="t">0.3</text>
<text x="137.8" y="224.84" font-size="7.6" class="t" text-anchor="end">1</text>
<text x="137.8" y="231.97" font-size="7.6" class="t" text-anchor="end">2</text>
<text x="137.8" y="239.1" font-size="7.6" class="t" text-anchor="end">3</text>
<text x="137.8" y="246.23" font-size="7.6" class="t" text-anchor="end">4</text>
<text x="137.8" y="253.36" font-size="7.6" class="t" text-anchor="end">5</text>
<text x="137.8" y="260.49" font-size="7.6" class="t" text-anchor="end">6</text>
<text x="137.8" y="267.62" font-size="7.6" class="t" text-anchor="end">7</text>
<text x="137.8" y="274.75" font-size="7.6" class="t" text-anchor="end">8</text>
<text x="137.8" y="281.88" font-size="7.6" class="t" text-anchor="end">9</text>
<text x="137.8" y="289.01" font-size="7.6" class="t" text-anchor="end">10</text>
<text x="137.8" y="296.14" font-size="7.6" class="t" text-anchor="end">11</text>
<text x="137.8" y="303.27" font-size="7.6" class="t" text-anchor="end">12</text>
<text x="137.8" y="310.4" font-size="7.6" class="t" text-anchor="end">13</text>
<text x="137.8" y="317.53" font-size="7.6" class="t" text-anchor="end">14</text>
<text x="137.8" y="324.67" font-size="7.6" class="t" text-anchor="end">15</text>
<text x="137.8" y="331.8" font-size="7.6" class="t" text-anchor="end">16</text>
<text x="137.8" y="338.93" font-size="7.6" class="t" text-anchor="end">17</text>
<text x="137.8" y="346.06" font-size="7.6" class="t" text-anchor="end">18</text>
<text x="137.8" y="353.19" font-size="7.6" class="t" text-anchor="end">19</text>
<text x="137.8" y="360.32" font-size="7.6" class="t" text-anchor="end">20</text>
<text x="137.8" y="367.45" font-size="7.6" class="t" text-anchor="end">21</text>
<text x="137.8" y="374.58" font-size="7.6" class="t" text-anchor="end">22</text>
<text x="137.8" y="381.71" font-size="7.6" class="t" text-anchor="end">23</text>
<text x="164.8" y="390.92" font-size="6.75" class="b" text-anchor="middle">Centroid 1</text>
<text x="205.8" y="390.92" font-size="6.75" class="b" text-anchor="middle">Centroid 2</text>
<text x="246.4" y="390.92" font-size="6.75" class="b" text-anchor="middle">Centroid 3</text>
<text x="287.8" y="390.92" font-size="6.75" class="b" text-anchor="middle">Centroid 4</text>
<text x="328.6" y="390.92" font-size="6.75" class="b" text-anchor="middle">Centroid 5</text>
<text transform="translate(121.4 304.2) rotate(-90)" font-size="8.95" class="b" text-anchor="middle">WSI Images</text>
<text transform="translate(249.5 415.3) scale(0.95 1)" font-size="13" class="c" text-anchor="middle"><tspan dy="-0.5">(</tspan><tspan font-weight="bold" dy="0.5">c</tspan><tspan dy="-0.5">)</tspan></text>
</svg>
</body></html>
